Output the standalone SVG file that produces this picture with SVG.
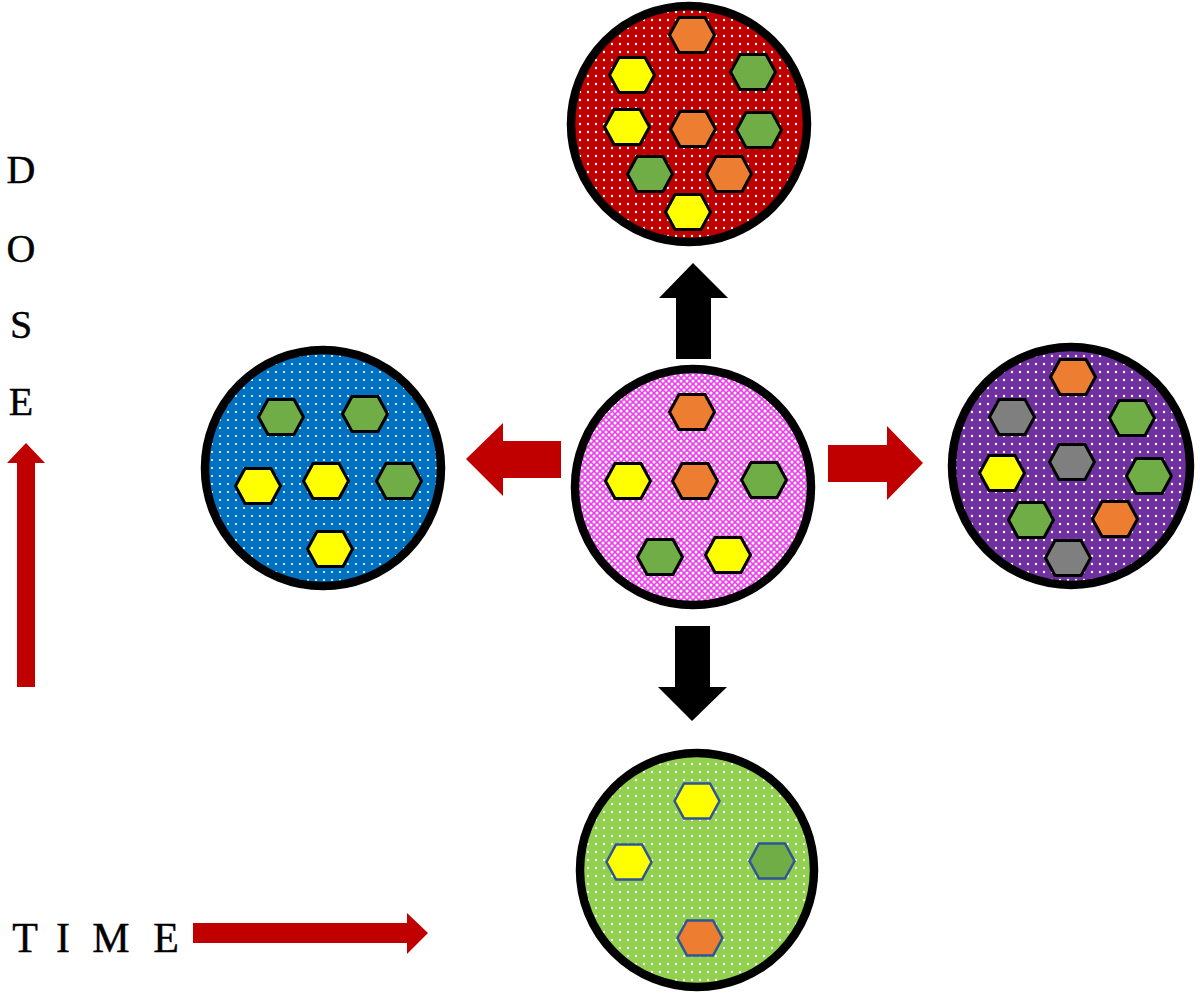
<svg xmlns="http://www.w3.org/2000/svg" xmlns:xlink="http://www.w3.org/1999/xlink" width="1200" height="998" viewBox="0 0 1200 998">
<defs>
<style>
.cell{stroke:#000;stroke-width:8.5}
.hx{stroke:#000;stroke-width:3;stroke-linejoin:miter}
.hb{stroke:#2f5597;stroke-width:2.5}
.o{fill:#ed7d31}.y{fill:#ffff00}.g{fill:#70ad47}.k{fill:#7f7f7f}
.red{fill:#c00000}.blk{fill:#000}
.lbl{font-family:"Liberation Serif","Times New Roman",serif;fill:#000;text-anchor:middle;stroke:#000;stroke-width:0.4}
</style>
<path id="hex" d="M-22.5,0 L-13,-17.5 L13,-17.5 L22.5,0 L13,17.5 L-13,17.5 Z"/>
<pattern id="pRed" width="8" height="8" patternUnits="userSpaceOnUse">
<rect width="8" height="8" fill="#c00000"/><circle cx="4" cy="4" r="1.2" fill="#fff"/>
</pattern>
<pattern id="pBlue" width="8" height="8" patternUnits="userSpaceOnUse">
<rect width="8" height="8" fill="#0070c0"/><circle cx="4" cy="4" r="1.1" fill="#fff"/>
</pattern>
<pattern id="pPurple" width="8" height="8" patternUnits="userSpaceOnUse">
<rect width="8" height="8" fill="#7030a0"/><circle cx="4" cy="4" r="1.2" fill="#fff"/>
</pattern>
<pattern id="pGreen" width="8" height="8" patternUnits="userSpaceOnUse">
<rect width="8" height="8" fill="#92d050"/><circle cx="4" cy="4" r="1.2" fill="#fff"/>
</pattern>
<pattern id="pPink" width="6" height="6" patternUnits="userSpaceOnUse">
<rect width="6" height="6" fill="#ea40ea"/>
<circle cx="0" cy="0" r="1.5" fill="#fff"/><circle cx="6" cy="0" r="1.5" fill="#fff"/>
<circle cx="0" cy="6" r="1.5" fill="#fff"/><circle cx="6" cy="6" r="1.5" fill="#fff"/>
<circle cx="3" cy="3" r="1.5" fill="#fff"/>
</pattern>
</defs>
<rect width="1200" height="998" fill="#fff"/>

<g id="connectors">
<polygon class="blk" points="676,359 711,359 711,298 728,298 693,263 659,298 676,298"/>
<polygon class="blk" points="675,626 710,626 710,687 727,687 692,721 658,687 675,687"/>
<polygon class="red" points="561,441 561,478 503,478 503,496 466,459 503,423 503,441"/>
<polygon class="red" points="828,445 887,445 887,426 923,463 887,500 887,482 828,482"/>
</g>

<g id="node-top">
<circle class="cell" cx="689" cy="124" r="118" fill="url(#pRed)"/>
<use href="#hex" class="hx o" x="692" y="35"/>
<use href="#hex" class="hx y" x="632" y="75"/>
<use href="#hex" class="hx g" x="753" y="72"/>
<use href="#hex" class="hx y" x="627" y="127"/>
<use href="#hex" class="hx o" x="693" y="129"/>
<use href="#hex" class="hx g" x="759" y="130"/>
<use href="#hex" class="hx g" x="650" y="174"/>
<use href="#hex" class="hx o" x="729" y="174"/>
<use href="#hex" class="hx y" x="688" y="212"/>
</g>

<g id="node-center">
<circle class="cell" cx="693" cy="487" r="118" fill="url(#pPink)"/>
<use href="#hex" class="hx o" x="692" y="412"/>
<use href="#hex" class="hx y" x="628" y="481"/>
<use href="#hex" class="hx o" x="695" y="481"/>
<use href="#hex" class="hx g" x="764" y="480"/>
<use href="#hex" class="hx g" x="660" y="557"/>
<use href="#hex" class="hx y" x="728" y="555"/>
</g>

<g id="node-left">
<circle class="cell" cx="323" cy="468" r="118" fill="url(#pBlue)"/>
<use href="#hex" class="hx g" x="281" y="417"/>
<use href="#hex" class="hx g" x="365" y="414"/>
<use href="#hex" class="hx y" x="258" y="486"/>
<use href="#hex" class="hx y" x="326" y="481"/>
<use href="#hex" class="hx g" x="399" y="481"/>
<use href="#hex" class="hx y" x="330" y="549"/>
</g>

<g id="node-right">
<circle class="cell" cx="1071" cy="466" r="119" fill="url(#pPurple)"/>
<use href="#hex" class="hx o" x="1073" y="377"/>
<use href="#hex" class="hx k" x="1012" y="417"/>
<use href="#hex" class="hx g" x="1132" y="418"/>
<use href="#hex" class="hx k" x="1072" y="462"/>
<use href="#hex" class="hx y" x="1002" y="473"/>
<use href="#hex" class="hx g" x="1149" y="476"/>
<use href="#hex" class="hx g" x="1031" y="520"/>
<use href="#hex" class="hx o" x="1115" y="519"/>
<use href="#hex" class="hx k" x="1068" y="558"/>
</g>

<g id="node-bottom">
<circle class="cell" cx="697" cy="870" r="117" fill="url(#pGreen)"/>
<use href="#hex" class="hb y" x="697" y="801"/>
<use href="#hex" class="hb y" x="629" y="862"/>
<use href="#hex" class="hb g" x="772" y="861"/>
<use href="#hex" class="hb o" x="700" y="938"/>
</g>

<g id="axis-dose">
<text class="lbl" font-size="40"><tspan x="21" y="183">D</tspan><tspan x="21" y="262">O</tspan><tspan x="21" y="338">S</tspan><tspan x="21" y="415">E</tspan></text>
<polygon class="red" points="17,687 35,687 35,463 45,463 26,443 7,463 17,463"/>
</g>

<g id="axis-time">
<text class="lbl" font-size="42"><tspan x="25" y="952">T</tspan><tspan x="63" y="952">I</tspan><tspan x="111" y="952">M</tspan><tspan x="166" y="952">E</tspan></text>
<polygon class="red" points="193,923 407,923 407,913 428,933 407,954 407,943 193,943"/>
</g>
</svg>
